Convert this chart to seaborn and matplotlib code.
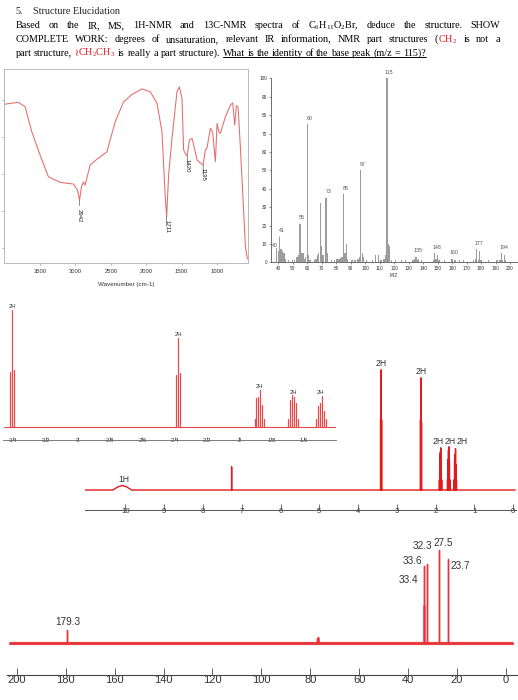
import matplotlib
matplotlib.use("Agg")
import matplotlib.pyplot as plt
import matplotlib.transforms as mtransforms
from matplotlib.lines import Line2D
import pandas as pd
import seaborn as sns

# ---------------- data ----------------
# IR spectrum (wavenumber cm-1, transmittance)
ir_wavenumber = [4010, 3807, 3712, 3618, 3500, 3382, 3217, 3028, 2972, 2942, 2915, 2887,
                 2863, 2792, 2697, 2556, 2438, 2320, 2202, 2060, 1942, 1847, 1777, 1730,
                 1711, 1683, 1635, 1565, 1532, 1494, 1471, 1437, 1420, 1390, 1352, 1329,
                 1281, 1234, 1195, 1164, 1141, 1093, 1060, 1022, 998, 975, 951, 880, 810,
                 777, 749, 725, 701, 668, 597, 570]
ir_transmittance = [77.7, 78.8, 76.4, 62.9, 50.3, 38.5, 35.5, 34.6, 31.4, 26.0, 33.1, 35.8,
                    34.0, 44.9, 48.0, 52.0, 68.3, 79.0, 83.0, 86.0, 84.5, 78.2, 62.9, 27.0,
                    17.0, 39.5, 59.5, 84.5, 87.2, 81.0, 53.0, 50.3, 50.0, 58.4, 59.3, 55.7,
                    47.6, 46.0, 44.9, 53.0, 54.0, 64.7, 62.6, 46.7, 67.4, 63.0, 62.0, 71.0,
                    77.3, 78.5, 66.5, 77.0, 76.0, 54.0, 0.7, -6.0]
ir_peak_labels = ["2942", "1711", "1420", "1195"]
ir_xticks = [3500, 3000, 2500, 2000, 1500, 1000]

# Mass spectrum (m/z, relative intensity)
ms_mz = [39, 40, 41, 42, 43, 44, 45, 47, 50, 51, 53, 54, 55, 56, 57, 58, 59, 60, 61, 62,
         65, 66, 67, 68, 69, 70, 71, 73, 74, 77, 79, 80, 81, 82, 83, 84, 85, 86, 87, 88,
         91, 93, 95, 96, 97, 98, 99, 101, 105, 107, 109, 111, 113, 114, 115, 116, 117, 118,
         121, 125, 128, 133, 134, 135, 136, 137, 139, 147, 148, 149, 150, 151, 155, 160,
         162, 165, 168, 175, 176, 177, 178, 179, 180, 185, 191, 193, 194, 195, 196, 197]
ms_intensity = [8, 6, 14, 7, 6, 5, 2, 1.5, 1, 1.5, 3, 4, 21, 5, 5, 2, 3, 75, 4, 1,
                1, 2, 4, 5, 32, 9, 4, 35, 5, 1, 1.5, 2, 2, 2, 2.5, 3, 37, 5, 10, 2,
                1, 1, 2, 3, 50, 5, 3, 1, 1, 4, 4, 1, 2, 4, 100, 10, 9, 1,
                1, 1, 1, 1, 2, 3, 1, 2, 1, 1, 5, 2, 4, 1, 1, 2,
                1, 1, 1, 1, 2, 7, 1, 6, 1, 1, 1, 1, 5, 1, 4, 1]
ms_labels = ["40", "41", "55", "60", "73", "85", "97", "115", "135", "148", "160", "177", "194"]
ms_xticks = list(range(40, 201, 10))
ms_yticks = list(range(0, 101, 10))

# 1H NMR (ppm, line heights)
h_ppm = [3.420, 3.407, 3.394, 2.392, 2.379, 2.366,
         1.905, 1.893, 1.881, 1.869, 1.857, 1.845,
         1.695, 1.683, 1.671, 1.659, 1.647, 1.635,
         1.525, 1.513, 1.501, 1.489, 1.477, 1.465]
h_height_expansion = [55, 117, 57, 52, 89, 54,
                      8, 29, 30, 37, 22, 8,
                      8, 27, 32, 30, 24, 8,
                      8, 21, 24, 31, 16, 8]
h_height_full = [72, 120, 70, 70, 112, 68,
                 10, 35, 38, 42, 28, 10,
                 10, 30, 40, 43, 30, 10,
                 10, 28, 35, 41, 25, 10]
h_solvent_ppm = [7.26]
h_solvent_height = [23]
h_cooh_ppm = [10.32, 10.20, 10.08, 9.96, 9.84]
h_cooh_height = [0, 3, 4.5, 3, 0]
h_window_full = [11.03, -0.05]
h_window_expansion = [3.455, 1.40]
h_exp_ticks = [3.4, 3.2, 3.0, 2.8, 2.6, 2.4, 2.2, 2.0, 1.8, 1.6]
h_exp_ticklabels = ["3.4", "3.2", "3", "2.8", "2.6", "2.4", "2.2", "2", "1.8", "1.6"]
h_exp_integral_ppm = [3.407, 2.379, 1.877, 1.666, 1.494]
h_exp_integral_text = ["2H", "2H", "2H", "2H", "2H"]
h_full_ticks = list(range(0, 11))
h_full_ticklabels = ["0", "1", "2", "3", "4", "5", "6", "7", "8", "9", "10"]
h_full_integral_text = ["1H", "2H", "2H", "2H", "2H", "2H"]
h_full_integral_ppm = [10.05, 3.40, 2.38, 1.93, 1.63, 1.33]

# 13C NMR
c_ppm = [179.3, 77.3, 77.0, 76.7, 33.6, 33.4, 32.3, 27.5, 23.7]
c_height = [13, 5, 6, 5, 77, 38, 79, 93, 84]
c_window = [203, -2.9]
c_label_text = ["179.3", "33.6", "33.4", "32.3", "27.5", "23.7"]
c_ticks = list(range(0, 201, 20))

# ---------------- style ----------------
sns.set_theme(style="white")
plt.rcParams['font.family'] = ['Liberation Sans', 'DejaVu Sans']
plt.rcParams['mathtext.fontset'] = 'custom'
plt.rcParams['mathtext.rm'] = 'Liberation Serif'
plt.rcParams['mathtext.it'] = 'Liberation Serif:italic'
plt.rcParams['mathtext.bf'] = 'Liberation Serif:bold'

W, H = 518, 700
fig = plt.figure(figsize=(W / 100, H / 100), dpi=100)
fig.patch.set_facecolor('white')
renderer = fig.canvas.get_renderer()
PX = mtransforms.Affine2D().scale(1, -1).translate(0, H)
PT = 0.72  # points per pixel


def px_axes(l, t, r, b):
    ax = fig.add_axes([l / W, 1 - b / H, (r - l) / W, (b - t) / H])
    ax.set_facecolor('none')
    return ax


# ---------------- header text ----------------
SERIF = ['Liberation Serif', 'DejaVu Serif']
TS = 7.3
RED = '#e8141c'


def measure(s, fam, size):
    t = fig.text(0, 0, s, fontsize=size, family=fam)
    w = t.get_window_extent(renderer).width
    t.remove()
    return w


def put_line(words, y, x0=15.5, x1=None, size=TS):
    runs_w = []
    for w in words:
        runs_w.append([measure(r[0], r[3] if len(r) > 3 else SERIF, size) for r in w])
    widths = [sum(r) for r in runs_w]
    space = measure("a a", SERIF, size) - measure("aa", SERIF, size)
    gap = space if x1 is None else (x1 - x0 - sum(widths)) / (len(words) - 1)
    x = x0
    ul = []
    for w, rw in zip(words, runs_w):
        for r, wd in zip(w, rw):
            fam = r[3] if len(r) > 3 else SERIF
            fig.text(x, y, r[0], transform=PX, fontsize=size, family=fam,
                     color=r[1], va='baseline', ha='left')
            if r[2]:
                ul.append((x, x + wd))
            x += wd
        x += gap
    if ul:
        fig.add_artist(Line2D([ul[0][0], ul[-1][1]], [y + 1.8, y + 1.8], transform=PX,
                              color='black', lw=0.7))


def plain(text, underline=False):
    return [[(w, 'black', underline)] for w in text.split()]


fig.text(15.5, 14, "5.", transform=PX, fontsize=TS, family=SERIF, va='baseline')
fig.text(33, 14, "Structure Elucidation", transform=PX, fontsize=TS, family=SERIF, va='baseline')

line2 = plain("Based on the IR, MS, 1H-NMR and 13C-NMR spectra of") + \
    [[(r"C$_6$H$_{11}$O$_2$Br,", 'black', False)]] + plain("deduce the structure. SHOW")
put_line(line2, 28, x1=500)

line3 = plain("COMPLETE WORK: degrees of unsaturation, relevant IR information, NMR part structures") + \
    [[("(", 'black', False), (r"CH$_2$", RED, False)]] + plain("is not a")
put_line(line3, 42, x1=500)

line4 = plain("part structure,") + \
    [[("\u2240", RED, False, ['DejaVu Sans']), (r"CH$_2$CH$_3$", RED, False)]] + \
    plain("is really a part structure).") + \
    plain("What is the identity of the base peak (m/z = 115)?", underline=True)
put_line(line4, 55.5)

# ---------------- IR spectrum ----------------
ax_ir = px_axes(4, 69, 248, 263)
sns.lineplot(x=ir_wavenumber, y=ir_transmittance, sort=False, estimator=None,
             color='#e56b6b', lw=0.75, ax=ax_ir)
ax_ir.set_xlim(4010, 561)
ax_ir.set_ylim(-8.1, 96.8)
ax_ir.set_xticks(ir_xticks)
ax_ir.set_xticklabels([str(v) for v in ir_xticks], fontsize=4.2, color='#333333')
ax_ir.set_yticks([0, 20, 40, 60, 80])
ax_ir.set_yticklabels([])
ax_ir.tick_params(axis='both', bottom=True, left=True, direction='out', length=1.6,
                  width=0.4, color='#777777', pad=3.0)
for s in ax_ir.spines.values():
    s.set_color('#b0b0b0')
    s.set_linewidth(0.6)
ax_ir.set_xlabel('Wavenumber (cm-1)', fontsize=4.5, labelpad=5.5, color='#333333')
ax_ir.set_ylabel('')
ir_lookup = dict(zip(ir_wavenumber, ir_transmittance))
for lab in ir_peak_labels:
    wn = int(lab)
    off = 6.5 if wn == 2942 else 2.2
    ax_ir.annotate(lab, xy=(wn, ir_lookup[wn]), xytext=(0, -off), textcoords='offset points',
                   rotation=270, ha='center', va='top', fontsize=4.3, color='#222222',
                   arrowprops=dict(arrowstyle='-', lw=0.4, color='#333333',
                                   shrinkA=0, shrinkB=0))

# ---------------- Mass spectrum ----------------
ax_ms = px_axes(270.7, 78.3, 516.7, 262.3)
sns.barplot(x=ms_mz, y=ms_intensity, native_scale=True, color='#9c9c9c', saturation=1,
            width=0.9, errorbar=None, linewidth=0, ax=ax_ms)
ax_ms.set_xlim(34.8, 204.6)
ax_ms.set_ylim(0, 100)
ax_ms.set_xticks(ms_xticks)
ax_ms.set_xticklabels([str(v) for v in ms_xticks], fontsize=3.4, color='#333333')
ax_ms.set_yticks(ms_yticks)
ax_ms.set_yticklabels([str(v) for v in ms_yticks], fontsize=3.4, color='#333333')
ax_ms.tick_params(axis='both', bottom=True, left=True, direction='out', length=1.3,
                  width=0.4, color='#444444', pad=1.2)
ax_ms.spines['top'].set_visible(False)
ax_ms.spines['right'].set_visible(False)
for k in ('left', 'bottom'):
    ax_ms.spines[k].set_color('#555555')
    ax_ms.spines[k].set_linewidth(0.6)
ax_ms.set_xlabel('M/Z', fontsize=3.4, labelpad=1.5, color='#333333')
ax_ms.set_ylabel('')
ms_lookup = dict(zip(ms_mz, ms_intensity))
for lab in ms_labels:
    mz = int(lab)
    dx = -3.3 if mz == 40 else 2.3
    ax_ms.annotate(lab, xy=(mz, ms_lookup[mz]), xytext=(dx * PT, 3.6 * PT),
                   textcoords='offset points', ha='center', va='bottom', fontsize=3.8,
                   color='#555555',
                   arrowprops=dict(arrowstyle='-', lw=0.3, color='#888888',
                                   shrinkA=0, shrinkB=0))


# ---------------- NMR helpers ----------------
def stick_frame(ppm, height, window, extra_ppm=(), extra_h=()):
    pts = [(p, [0.0, h, 0.0]) for p, h in zip(ppm, height)]
    pts += [(p, [h]) for p, h in zip(extra_ppm, extra_h)]
    pts += [(p, [0.0]) for p in window]
    pts.sort(key=lambda t: -t[0])
    xs, ys = [], []
    for p, hs in pts:
        for h in hs:
            xs.append(p)
            ys.append(h)
    return pd.DataFrame({'ppm': xs, 'intensity': ys})


def nmr_axis(ax, ticks, labels, fs, length, pad, color, lw):
    ax.set_xticks(ticks)
    ax.set_xticklabels(labels, fontsize=fs, color='#333333')
    ax.set_yticks([])
    ax.tick_params(axis='x', bottom=True, direction='in', length=length, width=0.6,
                   color=color, pad=pad)
    for k in ('top', 'left', 'right'):
        ax.spines[k].set_visible(False)
    ax.spines['bottom'].set_color(color)
    ax.spines['bottom'].set_linewidth(lw)
    ax.set_xlabel('')
    ax.set_ylabel('')


# ---------------- 1H expansion ----------------
ax_ex = px_axes(3, 290, 336, 440)
df_ex = stick_frame(h_ppm, h_height_expansion, h_window_expansion)
sns.lineplot(data=df_ex, x='ppm', y='intensity', sort=False, estimator=None,
             color='#e4494b', lw=0.8, ax=ax_ex)
ax_ex.set_xlim(3.464, 1.40)
ax_ex.set_ylim(-13, 137)
nmr_axis(ax_ex, h_exp_ticks, h_exp_ticklabels, 4.3, 2.2, -1.2, '#666666', 0.6)
for txt, p in zip(h_exp_integral_text, h_exp_integral_ppm):
    top = max(h for q, h in zip(h_ppm, h_height_expansion) if abs(q - p) < 0.04)
    ax_ex.text(p, top + 0.5, txt, ha='center', va='bottom', fontsize=4.2, color='#333333')

# ---------------- 1H full ----------------
ax_h = px_axes(85, 360, 516, 510)
df_h = stick_frame(h_ppm + h_solvent_ppm, h_height_full + h_solvent_height, h_window_full,
                   h_cooh_ppm, h_cooh_height)
sns.lineplot(data=df_h, x='ppm', y='intensity', sort=False, estimator=None,
             color='#e31a1c', lw=1.0, ax=ax_h)
ax_h.set_xlim(11.04, -0.07)
ax_h.set_ylim(-20, 130)
nmr_axis(ax_h, h_full_ticks, h_full_ticklabels, 5.6, 4.3, -1.7, '#555555', 0.7)
all_ppm = h_ppm + h_solvent_ppm + h_cooh_ppm
all_h = h_height_full + h_solvent_height + h_cooh_height
for i, (txt, p) in enumerate(zip(h_full_integral_text, h_full_integral_ppm)):
    if i >= 3:
        top = max(h for q, h in zip(h_ppm, h_height_full) if 1.4 < q < 2.0)
    else:
        top = max(h for q, h in zip(all_ppm, all_h) if abs(q - p) < 0.3)
    ax_h.text(p, top + 1.5, txt, ha='center', va='bottom', fontsize=6.2, color='#333333')

# ---------------- 13C ----------------
ax_c = px_axes(7, 540, 517, 675)
df_c = stick_frame(c_ppm, c_height, c_window)
ax_c.hlines(0, c_window[0], c_window[1], color='#e0282b', lw=2.3, alpha=0.85)
sns.lineplot(data=df_c, x='ppm', y='intensity', sort=False, estimator=None,
             color='#e8333a', lw=1.0, ax=ax_c)
ax_c.set_xlim(204, -4.5)
ax_c.set_ylim(-32, 103)
nmr_axis(ax_c, c_ticks, [str(v) for v in c_ticks], 8, 5.0, 0.3, '#444444', 0.8)
c_lookup = dict(zip(c_ppm, c_height))
c_label_offsets = {"179.3": (0, 8.3), "33.6": (-11.8, 5.3), "33.4": (-16.3, 24.6),
                   "32.3": (-5.0, 17.6), "27.5": (4.8, 7.3), "23.7": (12.5, -7.4)}
for lab in c_label_text:
    p = float(lab)
    dx, dy = c_label_offsets[lab]
    ax_c.annotate(lab, xy=(p, c_lookup[p]), xytext=(dx * PT, dy * PT),
                  textcoords='offset points', ha='center', va='center', fontsize=7.2,
                  color='#333333')

fig.savefig('out.png', dpi=100, facecolor='white')
